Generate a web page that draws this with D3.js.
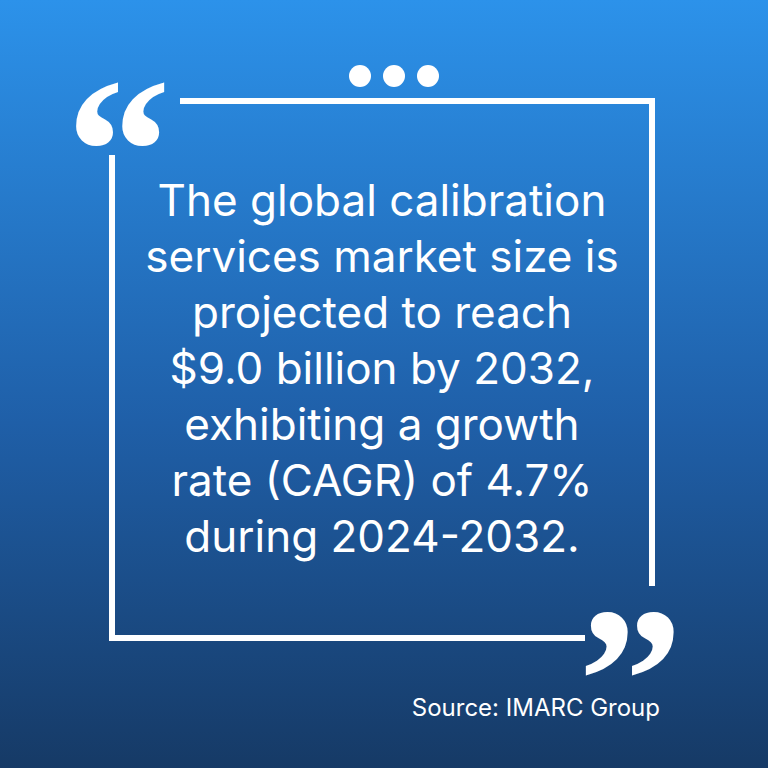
<!DOCTYPE html>
<html>
<head>
<meta charset="utf-8">
<script src="https://cdn.jsdelivr.net/npm/d3@7"></script>
<style>body{margin:0;}svg{display:block;}</style>
</head>
<body>
<svg id="card" width="768" height="768"></svg>
<script>
// Quote text, one entry per line
const quoteLines = [
    "The global calibration",
    "services market size is",
    "projected to reach",
    "$9.0 billion by 2032,",
    "exhibiting a growth",
    "rate (CAGR) of 4.7%",
    "during 2024-2032."
];
const sourceText = "Source: IMARC Group";
const dots = [0, 1, 2];

const width = 768, height = 768;
const svg = d3.select('#card');

// background gradient
const grad = svg.append('defs').append('linearGradient')
    .attr('id', 'bg').attr('x1', 0).attr('y1', 0).attr('x2', 0).attr('y2', 1);
grad.append('stop').attr('offset', '0%').attr('stop-color', '#2c92ea');
grad.append('stop').attr('offset', '55%').attr('stop-color', '#1f5fa8');
grad.append('stop').attr('offset', '100%').attr('stop-color', '#163a66');
svg.append('rect').attr('width', width).attr('height', height).attr('fill', 'url(#bg)');

// frame
svg.append('path')
    .attr('d', 'M180,101 H652 V586 M585,638 H112 V155')
    .attr('fill', 'none').attr('stroke', 'white').attr('stroke-width', 6);

// three dots
const dotX = d3.scaleLinear().domain([0, 2]).range([360, 428]);
svg.selectAll('circle.dot').data(dots).join('circle')
    .attr('class', 'dot')
    .attr('cx', d => dotX(d)).attr('cy', 76).attr('r', 11)
    .attr('fill', 'white');

// quote marks
svg.append('text').text('\u201C')
    .attr('x', 66).attr('y', 222)
    .attr('font-family', 'Liberation Serif').attr('font-weight', 'bold')
    .attr('font-size', 210).attr('fill', 'white');
svg.append('text').text('\u201D')
    .attr('x', 578).attr('y', 752)
    .attr('font-family', 'Liberation Serif').attr('font-weight', 'bold')
    .attr('font-size', 210).attr('fill', 'white');

// quote text
const lineY = d3.scalePoint().domain(d3.range(quoteLines.length)).range([216, 552]);
svg.selectAll('text.line').data(quoteLines).join('text')
    .attr('class', 'line')
    .attr('x', 382).attr('y', (d, i) => lineY(i))
    .attr('text-anchor', 'middle')
    .attr('font-family', 'Inter, Roboto, sans-serif')
    .attr('font-size', 44).attr('fill', 'white')
    .text(d => d);

// source
svg.append('text').text(sourceText)
    .attr('x', 660).attr('y', 716).attr('text-anchor', 'end')
    .attr('font-family', 'Inter, Roboto, sans-serif')
    .attr('font-size', 24).attr('fill', 'white');
</script>
</body>
</html>
